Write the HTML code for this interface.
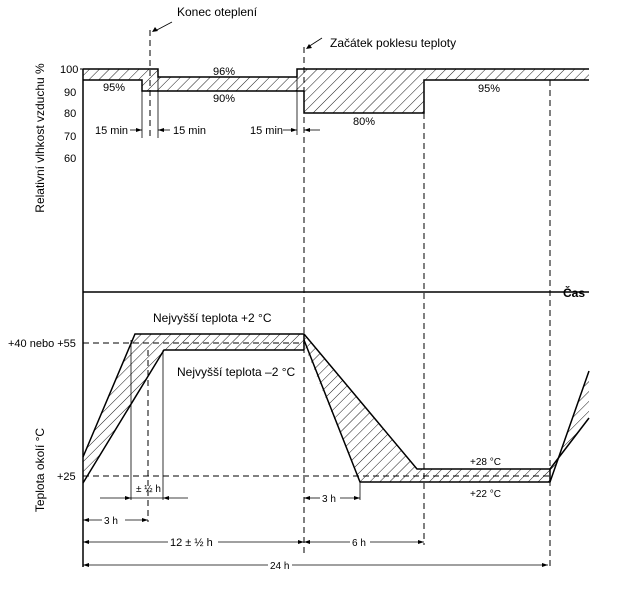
<!DOCTYPE html>
<html><head><meta charset="utf-8"><style>
html,body{margin:0;padding:0;background:#fff;}
svg{display:block;font-family:"Liberation Sans",sans-serif;}
</style></head><body>
<svg width="623" height="589" viewBox="0 0 623 589" xmlns="http://www.w3.org/2000/svg">
<defs>
<pattern id="h" patternUnits="userSpaceOnUse" width="7" height="7" patternTransform="rotate(45)">
<line x1="0" y1="0" x2="0" y2="7" stroke="#000" stroke-width="0.9"/>
</pattern>
</defs>
<g fill="#000" font-size="11">
<path d="M83,69 L158,69 L158,77 L297,77 L297,69 L589,69 L589,80 L424,80 L424,113 L304,113 L304,91 L142,91 L142,80 L83,80 Z" fill="url(#h)" stroke="none"/>
<g stroke="#000" stroke-width="1.5" fill="none">
<path d="M83,69 L158,69 L158,77 L297,77 L297,69 L589,69"/>
<path d="M83,80 L142,80 L142,91 L304,91 L304,113 L424,113 L424,80 L589,80"/>
<path d="M83,69 L83,567"/>
<path d="M83,292 L589,292"/>
</g>
<g stroke="#000" stroke-width="1"><line x1="80" y1="69" x2="83" y2="69"/></g>
<text x="60" y="73">100</text><text x="64" y="96">90</text><text x="64" y="117">80</text><text x="64" y="140">70</text><text x="64" y="162">60</text>
<text transform="translate(44,138) rotate(-90)" text-anchor="middle" font-size="12">Relativní vlhkost vzduchu %</text>
<text transform="translate(44,470) rotate(-90)" text-anchor="middle" font-size="12">Teplota okolí °C</text>
<text x="103" y="91">95%</text><text x="213" y="75">96%</text><text x="213" y="102">90%</text>
<text x="353" y="125">80%</text><text x="478" y="92">95%</text>
<text x="177" y="16" font-size="12">Konec oteplení</text>
<text x="330" y="47" font-size="12">Začátek poklesu teploty</text>
<text x="563" y="297" font-size="12" font-weight="bold">Čas</text>
<g stroke="#000" stroke-width="1" stroke-dasharray="6,4" fill="none">
<line x1="150" y1="30" x2="150" y2="138"/>
<line x1="304" y1="47" x2="304" y2="557"/>
<line x1="424" y1="113" x2="424" y2="545"/>
<line x1="550" y1="80" x2="550" y2="567"/>
<line x1="83" y1="343" x2="304" y2="343"/>
<line x1="83" y1="476" x2="550" y2="476"/>
<line x1="148" y1="350" x2="148" y2="522"/>
</g>
<g stroke="#000" stroke-width="0.8" fill="none">
<line x1="142" y1="80" x2="142" y2="138"/>
<line x1="158" y1="69" x2="158" y2="138"/>
<line x1="297" y1="69" x2="297" y2="135"/>
<line x1="131" y1="340" x2="131" y2="500"/>
<line x1="163" y1="350" x2="163" y2="500"/>
<line x1="360" y1="482" x2="360" y2="500"/>
<line x1="172" y1="22" x2="155" y2="31"/><line x1="322" y1="38" x2="308" y2="47"/>
<line x1="130" y1="130" x2="142" y2="130"/><line x1="158" y1="130" x2="170" y2="130"/>
<line x1="283" y1="130" x2="297" y2="130"/><line x1="304" y1="130" x2="320" y2="130"/>
<line x1="100" y1="498" x2="188" y2="498"/>
<line x1="83" y1="520" x2="102" y2="520"/><line x1="125" y1="520" x2="148" y2="520"/>
<line x1="83" y1="542" x2="168" y2="542"/><line x1="218" y1="542" x2="304" y2="542"/>
<line x1="83" y1="565" x2="268" y2="565"/><line x1="292" y1="565" x2="548" y2="565"/>
<line x1="304" y1="498" x2="320" y2="498"/><line x1="340" y1="498" x2="360" y2="498"/>
<line x1="304" y1="542" x2="350" y2="542"/><line x1="370" y1="542" x2="424" y2="542"/>
</g>
<g fill="#000">
<path d="M142,130 l-6,-2 v4z"/><path d="M158,130 l6,-2 v4z"/>
<path d="M297,130 l-6,-2 v4z"/><path d="M304,130 l6,-2 v4z"/>
<path d="M152,32 l6,-1 l-3,-4z"/><path d="M306,49 l6,-1 l-3,-4z"/>
<path d="M131,498 l-6,-2 v4z"/><path d="M163,498 l6,-2 v4z"/>
<path d="M83,520 l6,-2 v4z"/><path d="M148,520 l-6,-2 v4z"/>
<path d="M83,542 l6,-2 v4z"/><path d="M304,542 l-6,-2 v4z"/><path d="M304,542 l6,-2 v4z"/><path d="M424,542 l-6,-2 v4z"/>
<path d="M83,565 l6,-2 v4z"/><path d="M548,565 l-6,-2 v4z"/>
<path d="M304,498 l6,-2 v4z"/><path d="M360,498 l-6,-2 v4z"/>
</g>
<text x="95" y="134">15 min</text><text x="173" y="134">15 min</text><text x="250" y="134">15 min</text>
<text x="136" y="492" font-size="10">± ½ h</text>
<text x="104" y="524" font-size="10">3 h</text>
<text x="170" y="546" font-size="11">12 ± ½ h</text>
<text x="270" y="569" font-size="10">24 h</text>
<text x="322" y="502" font-size="10">3 h</text>
<text x="352" y="546" font-size="10">6 h</text>
<path d="M83,457 L135,334 L304,334 L417,469 L550,469 L550,482 L360,482 L304,345 L304,350 L164,350 L83,483 Z" fill="url(#h)" stroke="none"/>
<path d="M550,469 L589,418 L589,371 L550,482 Z" fill="url(#h)" stroke="none"/>
<g stroke="#000" stroke-width="1.5" fill="none">
<path d="M83,457 L135,334 L304,334 L417,469 L550,469 L550,482"/>
<path d="M83,483 L164,350 L304,350"/>
<path d="M304,340 L360,482 L550,482 L589,371"/>
<path d="M550,469 L589,418"/>
<path d="M304,334 L304,350"/>
</g>
<text x="153" y="322" font-size="12">Nejvyšší teplota +2 °C</text>
<text x="177" y="376" font-size="12">Nejvyšší teplota –2 °C</text>
<text x="8" y="347" font-size="11">+40 nebo +55</text>
<text x="57" y="480" font-size="11">+25</text>
<text x="470" y="465" font-size="10">+28 °C</text>
<text x="470" y="497" font-size="10">+22 °C</text>
</g>
</svg>
</body></html>
